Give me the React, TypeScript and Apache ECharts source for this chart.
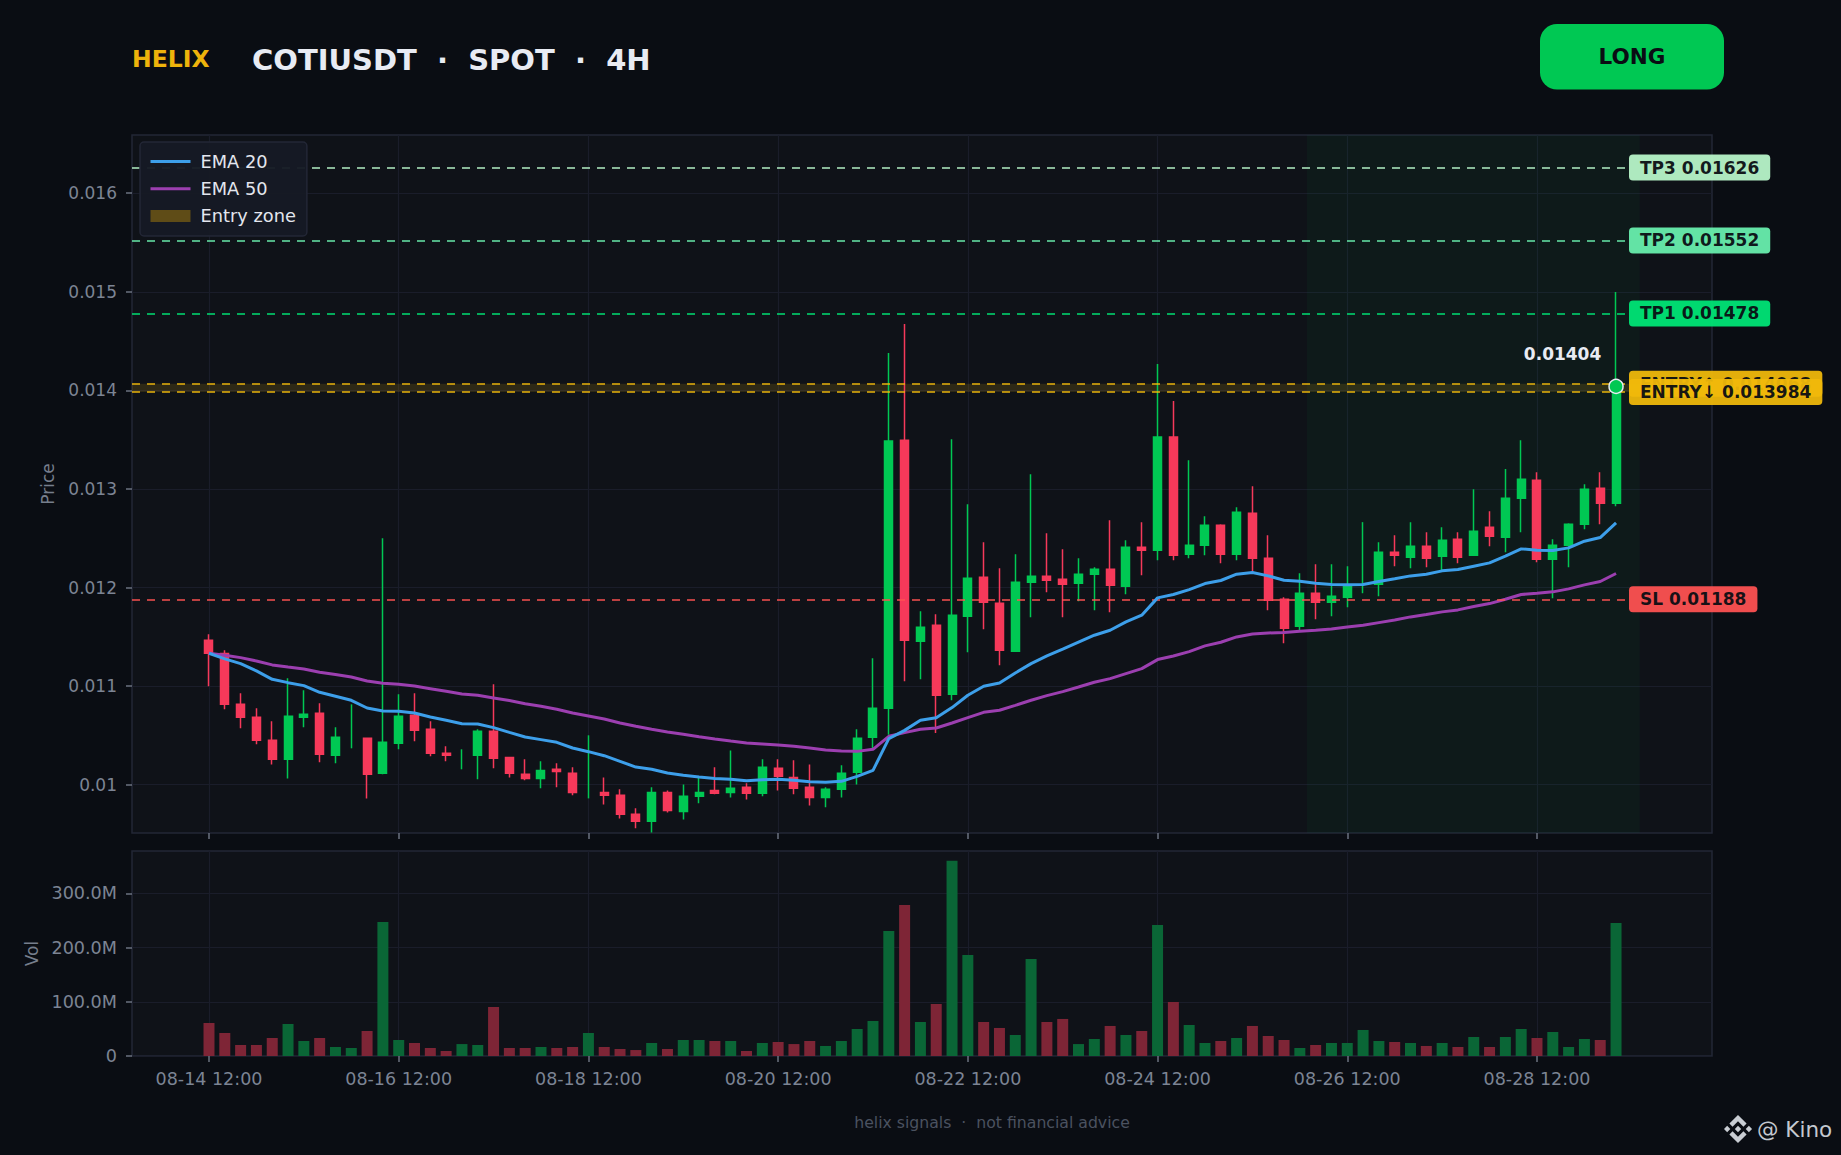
import React, { useEffect, useRef } from "react";
import * as echarts from "echarts";

// Prices are read in thousandths of a USDT and converted below.
const opensMilli = [11.465,11.33,10.815,10.683,10.45,10.257,10.683,10.724,10.298,10.58,10.47,10.115,10.42,10.704,10.562,10.318,10.3,10.298,10.541,10.277,10.105,10.064,10.156,10.115,9.93,9.922,9.892,9.699,9.628,9.922,9.729,9.882,9.942,9.922,9.973,9.912,10.166,10.074,9.973,9.871,9.953,10.125,10.48,10.775,13.495,11.455,11.617,10.917,11.709,12.104,11.841,11.353,12.054,12.115,12.084,12.044,12.135,12.186,12.013,12.409,12.379,13.526,12.338,12.429,12.632,12.338,12.754,12.297,11.881,11.607,11.942,11.851,11.901,12.02,12.033,12.358,12.307,12.419,12.318,12.49,12.328,12.612,12.51,12.906,13.089,12.287,12.429,12.642,13.008,12.856];
const closesMilli = [11.333,10.815,10.683,10.45,10.257,10.694,10.714,10.308,10.48,10.58,10.105,10.43,10.694,10.551,10.318,10.298,10.3,10.541,10.267,10.115,10.064,10.145,10.135,9.922,9.93,9.892,9.699,9.628,9.922,9.739,9.882,9.922,9.912,9.963,9.912,10.176,10.085,9.963,9.871,9.953,10.115,10.47,10.775,13.485,11.465,11.597,10.907,11.719,12.094,11.851,11.364,12.054,12.115,12.074,12.033,12.135,12.186,12.023,12.409,12.379,13.526,12.328,12.429,12.632,12.338,12.764,12.297,11.871,11.587,11.942,11.851,11.912,12.013,12.02,12.358,12.328,12.419,12.297,12.48,12.307,12.571,12.521,12.906,13.099,12.287,12.429,12.642,12.998,12.856,14.04];
const lowsMilli = [10.998,10.765,10.572,10.409,10.206,10.064,10.582,10.227,10.217,10.369,9.861,10.105,10.359,10.44,10.288,10.237,10.156,10.054,10.166,10.074,10.044,9.963,9.973,9.892,9.861,9.8,9.658,9.557,9.516,9.719,9.648,9.811,9.902,9.871,9.851,9.882,9.942,9.902,9.79,9.77,9.871,10.003,10.359,10.507,11.049,11.069,10.524,10.856,11.343,11.577,11.211,11.353,11.698,11.952,11.698,11.861,11.77,11.749,11.932,12.125,12.277,12.277,12.297,12.328,12.247,12.277,12.155,11.77,11.435,11.567,11.678,11.709,11.8,11.942,11.912,12.216,12.196,12.206,12.176,12.247,12.32,12.419,12.358,12.561,12.257,11.891,12.206,12.592,12.642,12.825];
const highsMilli = [11.526,11.364,10.927,10.775,10.643,11.079,10.957,10.826,10.582,10.815,10.47,12.5,10.917,10.927,10.643,10.389,10.359,10.562,11.018,10.277,10.257,10.237,10.217,10.176,10.501,10.074,9.953,9.76,9.973,9.942,10.003,10.074,10.176,10.348,10.014,10.257,10.257,10.247,10.206,9.973,10.196,10.562,11.282,14.378,14.672,11.759,11.729,13.505,12.845,12.46,12.196,12.338,13.15,12.551,12.389,12.297,12.206,12.683,12.48,12.663,14.267,13.891,13.292,12.724,12.642,12.815,13.028,12.531,11.901,12.145,12.236,12.236,12.216,12.663,12.46,12.531,12.663,12.561,12.612,12.561,12.998,12.774,13.201,13.495,13.17,12.49,12.653,13.048,13.17,14.997];
const ema20Milli = [11.333,11.276,11.228,11.154,11.069,11.035,11.005,10.937,10.897,10.856,10.778,10.748,10.744,10.727,10.687,10.653,10.619,10.616,10.579,10.531,10.484,10.457,10.43,10.372,10.335,10.294,10.237,10.179,10.156,10.118,10.095,10.078,10.064,10.054,10.041,10.051,10.054,10.044,10.03,10.024,10.034,10.085,10.145,10.467,10.551,10.653,10.68,10.782,10.907,10.998,11.032,11.133,11.228,11.306,11.374,11.445,11.516,11.567,11.651,11.719,11.895,11.929,11.979,12.04,12.071,12.135,12.152,12.118,12.074,12.064,12.044,12.03,12.027,12.03,12.061,12.088,12.118,12.135,12.169,12.182,12.216,12.25,12.318,12.392,12.379,12.375,12.402,12.47,12.507,12.656];
const ema50Milli = [11.333,11.313,11.289,11.255,11.215,11.194,11.174,11.14,11.117,11.093,11.052,11.029,11.018,11.001,10.974,10.947,10.92,10.907,10.88,10.853,10.822,10.796,10.765,10.727,10.697,10.666,10.626,10.592,10.562,10.535,10.511,10.487,10.464,10.443,10.423,10.413,10.403,10.389,10.372,10.352,10.342,10.338,10.359,10.491,10.528,10.562,10.575,10.626,10.68,10.734,10.755,10.805,10.856,10.903,10.944,10.991,11.039,11.076,11.127,11.177,11.269,11.306,11.35,11.408,11.445,11.499,11.529,11.539,11.543,11.556,11.567,11.58,11.6,11.617,11.644,11.671,11.702,11.726,11.753,11.773,11.807,11.837,11.881,11.929,11.942,11.956,11.986,12.027,12.061,12.142];
const volumesM = [60.9,42.4,20.3,20.3,33.2,59,27.7,33.2,16.6,14.8,46.1,247,29.5,24,14.8,9.2,22,20.3,90.4,14.8,14.8,16.6,14.8,16.6,42.4,16.6,12.9,11,24,12.9,29.5,29.5,27.7,27.7,9.2,24,25.8,22,27.7,18.5,27.7,49.8,64.6,230.6,278.6,62.7,95.9,359.8,186.3,62.7,51.7,38.7,179,62.7,68.3,22,31.4,55.4,38.7,46.1,241.7,99.6,57.2,24,27.7,33.2,55.4,36.9,29.5,14.8,20.3,24,24,48,27.7,25.8,24,18.5,24,16.6,35,16.6,35,49.8,33.2,44.3,16.6,31.4,29.5,245.4];

const xTicks = [0, 12, 24, 36, 48, 60, 72, 84];
const xTickLabels = ["08-14 12:00","08-16 12:00","08-18 12:00","08-20 12:00","08-22 12:00","08-24 12:00","08-26 12:00","08-28 12:00"];
const priceTicks = [0.01, 0.011, 0.012, 0.013, 0.014, 0.015, 0.016];
const priceTickLabels = ["0.01","0.011","0.012","0.013","0.014","0.015","0.016"];
const volTicks = [0, 100, 200, 300];
const volTickLabels = ["0","100.0M","200.0M","300.0M"];

const levelValues = [0.01626, 0.01552, 0.01478, 0.014068, 0.013984, 0.01188];
const levelLabels = ["TP3 0.01626","TP2 0.01552","TP1 0.01478","ENTRY↑ 0.014068","ENTRY↓ 0.013984","SL 0.01188"];
const levelColors = ["#b9f6ca","#69f0ae","#00e676","#f0b90b","#f0b90b","#ff5252"];
const lastIndex = 89;
const lastPrice = 0.01404;
const lastPriceLabel = "0.01404";
const highlightFrom = 69.45;
const highlightTo = 90.5;

const FONT = "'DejaVu Sans'";
const PAGE = "#0a0d13";
const PANEL = "#0f1218";
const BORDER = "#232736";
const GRIDLINE = "#1a1d2a";
const TICK = "#6b7280";
const LABEL = "#7c8494";
const UP = "#00c853";
const DOWN = "#f6395a";
const UP_VOL = "#0a6636";
const DOWN_VOL = "#7e2536";

const X_MIN = -4.87;
const X_MAX = 95.07;
const LEVEL_END = 89.82;

const milli = (a: number[]) => a.map((v) => v / 1000);

const LOGO = "M38.73 53.2l24.59-24.58 24.6 24.6 14.3-14.31L63.32 0 24.42 38.9z M0 63.31l14.3-14.31 14.31 14.31-14.31 14.3z M38.73 73.41l24.59 24.59 24.6-24.6 14.31 14.29-38.9 38.91-38.91-38.88v-.02z M98.28 63.31l14.3-14.3 14.31 14.3-14.31 14.3z M77.83 63.3L63.32 48.78 52.59 59.51l-1.24 1.23-2.54 2.54 14.51 14.5 14.51-14.47z";
echarts.graphic.registerShape("helixLogo", echarts.graphic.extendPath(LOGO, {}));

function buildOption() {
  const opens = milli(opensMilli);
  const closes = milli(closesMilli);
  const lows = milli(lowsMilli);
  const highs = milli(highsMilli);
  const allCandles = opens.map((o, i) => [i, o, closes[i], lows[i], highs[i]]);
  const bodied = allCandles.filter((c) => c[1] !== c[2]);
  const wickOnly = allCandles.filter((c) => c[1] === c[2]);
  const ema20 = milli(ema20Milli).map((v, i) => [i, v]);
  const ema50 = milli(ema50Milli).map((v, i) => [i, v]);
  const vols = volumesM.map((v, i) => ({
    value: [i, v],
    itemStyle: { color: closes[i] >= opens[i] ? UP_VOL : DOWN_VOL },
  }));

  const levelData = levelValues.map((v, i) => [
    {
      xAxis: X_MIN,
      yAxis: v,
      lineStyle: { color: levelColors[i], opacity: 0.72, width: 2, type: [8, 7] },
      label: {
        show: true,
        position: "end",
        distance: 0,
        formatter: levelLabels[i],
        fontFamily: FONT,
        fontSize: 17,
        fontWeight: "bold",
        lineHeight: 18,
        color: "#0a0d13",
        backgroundColor: levelColors[i],
        opacity: 0.94,
        padding: [4, 11, 4, 11],
        borderRadius: 4,
      },
    },
    { xAxis: LEVEL_END, yAxis: v },
  ]);

  const axisName = { color: "#767e8c", fontFamily: FONT, fontSize: 17 };
  const candleStyle = { color: UP, color0: DOWN, borderColor: UP, borderColor0: DOWN, borderWidth: 1.5 };

  return {
    animation: false,
    backgroundColor: PAGE,
    textStyle: { fontFamily: FONT },
    title: [
      { text: "HELIX", left: 132, top: 46.5, padding: 0, textStyle: { color: "#eeb30b", fontFamily: FONT, fontSize: 23.5, fontWeight: "bold" } },
      { text: "COTIUSDT  ·  SPOT  ·  4H", left: 252, top: 45, padding: 0, textStyle: { color: "#e8ebf3", fontFamily: FONT, fontSize: 29, fontWeight: "bold" } },
    ],
    legend: {
      z: 20,
      left: 140,
      top: 142,
      orient: "vertical",
      padding: [10.5, 11, 11, 9],
      itemGap: 9.2,
      itemWidth: 40,
      itemHeight: 12,
      backgroundColor: "rgba(22,26,36,0.96)",
      borderColor: "#232736",
      borderWidth: 1.5,
      borderRadius: 4,
      textStyle: { color: "#e3e6ee", fontFamily: FONT, fontSize: 17.8, padding: [0, 0, 0, 5] },
      data: [
        { name: "EMA 20", itemStyle: { opacity: 0 }, lineStyle: { width: 3 } },
        { name: "EMA 50", itemStyle: { opacity: 0 }, lineStyle: { width: 3 } },
        { name: "Entry zone", icon: "rect", itemStyle: { color: "#5f4c17" } },
      ],
    },
    grid: [
      { left: 132, right: 129, top: 135, height: 698, show: true, backgroundColor: PANEL, borderColor: BORDER, borderWidth: 1.5 },
      { left: 132, right: 129, top: 851, height: 205, show: true, backgroundColor: PANEL, borderColor: BORDER, borderWidth: 1.5 },
    ],
    xAxis: [0, 1].map((g) => ({
      type: "value",
      gridIndex: g,
      min: X_MIN,
      max: X_MAX,
      axisLine: { show: false, onZero: false },
      axisTick: { show: true, length: 6, customValues: xTicks, lineStyle: { color: TICK, width: 1.5 } },
      splitLine: { show: true, lineStyle: { color: GRIDLINE, width: 1.2 } },
      axisLabel: {
        show: g === 1,
        customValues: xTicks,
        margin: 13.5,
        color: LABEL,
        fontFamily: FONT,
        fontSize: 17.5,
        formatter: (v: number) => xTickLabels[xTicks.indexOf(v)] ?? "",
      },
    })),
    yAxis: [
      {
        type: "value",
        gridIndex: 0,
        min: 0.00951,
        max: 0.01659,
        name: "Price",
        nameLocation: "middle",
        nameGap: 76,
        nameTextStyle: axisName,
        axisLine: { show: false, onZero: false },
        axisTick: { show: true, length: 6, customValues: priceTicks, lineStyle: { color: TICK, width: 1.5 } },
        splitLine: { show: true, lineStyle: { color: GRIDLINE, width: 1.2 } },
        axisLabel: {
          customValues: priceTicks,
          margin: 15,
          color: LABEL,
          fontFamily: FONT,
          fontSize: 17,
          formatter: (v: number) => priceTickLabels[priceTicks.indexOf(v)] ?? "",
        },
      },
      {
        type: "value",
        gridIndex: 1,
        min: 0,
        max: 378,
        name: "Vol",
        nameLocation: "middle",
        nameGap: 92,
        nameTextStyle: axisName,
        axisLine: { show: false, onZero: false },
        axisTick: { show: true, length: 6, customValues: volTicks, lineStyle: { color: TICK, width: 1.5 } },
        splitLine: { show: true, lineStyle: { color: GRIDLINE, width: 1.2 } },
        axisLabel: {
          customValues: volTicks,
          margin: 15,
          color: LABEL,
          fontFamily: FONT,
          fontSize: 17.6,
          formatter: (v: number) => volTickLabels[volTicks.indexOf(v)] ?? "",
        },
      },
    ],
    series: [
      {
        name: "Window",
        type: "line",
        z: 1,
        data: [],
        markArea: {
          silent: true,
          itemStyle: { color: "rgba(0,200,83,0.045)" },
          data: [[{ xAxis: highlightFrom }, { xAxis: highlightTo }]],
        },
      },
      {
        name: "Candles",
        type: "candlestick",
        z: 2,
        barWidth: 8.5,
        encode: { x: 0, y: [1, 2, 3, 4] },
        itemStyle: candleStyle,
        data: bodied,
      },
      {
        name: "Flat candles",
        type: "candlestick",
        z: 2,
        barWidth: 0.5,
        encode: { x: 0, y: [1, 2, 3, 4] },
        itemStyle: { ...candleStyle, borderColorDoji: UP },
        data: wickOnly,
      },
      {
        name: "Entry zone",
        type: "line",
        z: 3,
        data: [],
        itemStyle: { color: "#5f4c17" },
        markArea: {
          silent: true,
          itemStyle: { color: "rgba(240,185,11,0.14)" },
          data: [[{ yAxis: levelValues[4] }, { yAxis: levelValues[3] }]],
        },
      },
      {
        name: "Levels",
        type: "line",
        z: 6,
        data: [],
        markLine: { silent: true, symbol: "none", animation: false, data: levelData },
      },
      {
        name: "EMA 50",
        type: "line",
        z: 4,
        symbol: "none",
        lineStyle: { color: "#9c3fb0", width: 3 },
        itemStyle: { color: "#9c3fb0" },
        data: ema50,
      },
      {
        name: "EMA 20",
        type: "line",
        z: 5,
        symbol: "none",
        lineStyle: { color: "#3d9fea", width: 3 },
        itemStyle: { color: "#3d9fea" },
        data: ema20,
      },
      {
        name: "Last price",
        type: "scatter",
        z: 7,
        symbolSize: 14,
        itemStyle: { color: UP, borderColor: "#e8ebf3", borderWidth: 1.5, opacity: 1 },
        label: {
          show: true,
          position: "left",
          distance: 7,
          offset: [0, -32],
          formatter: lastPriceLabel,
          color: "#e8ebf3",
          fontFamily: FONT,
          fontSize: 17,
          fontWeight: "bold",
        },
        data: [[lastIndex, lastPrice]],
      },
      {
        name: "Volume",
        type: "bar",
        xAxisIndex: 1,
        yAxisIndex: 1,
        barWidth: 11,
        encode: { x: 0, y: 1 },
        data: vols,
      },
    ],
    graphic: [
      { type: "rect", x: 1540, y: 24, shape: { width: 184, height: 65.5, r: 17 }, style: { fill: UP } },
      {
        type: "text",
        x: 1632,
        y: 56,
        style: { text: "LONG", fill: "#0a0d13", font: `bold 21.5px ${FONT}`, align: "center", verticalAlign: "middle" },
      },
      {
        type: "text",
        x: 992,
        y: 1122,
        style: { text: "helix signals  ·  not financial advice", fill: "#4b5260", font: `15.7px ${FONT}`, align: "center", verticalAlign: "middle" },
      },
      { type: "helixLogo", x: 1724, y: 1115, scaleX: 0.221, scaleY: 0.221, style: { fill: "#c9cdd3" } },
      {
        type: "text",
        x: 1757,
        y: 1129,
        style: { text: "@ Kino", fill: "#c4c8cf", font: `21.5px ${FONT}`, align: "left", verticalAlign: "middle" },
      },
    ],
  };
}

export default function App() {
  const ref = useRef<HTMLDivElement>(null);
  useEffect(() => {
    document.body.style.margin = "0";
    document.body.style.background = PAGE;
    const chart = echarts.init(ref.current!, null, { renderer: "svg" });
    chart.setOption(buildOption() as any);
    return () => chart.dispose();
  }, []);
  return <div ref={ref} style={{ width: 1841, height: 1155 }} />;
}
